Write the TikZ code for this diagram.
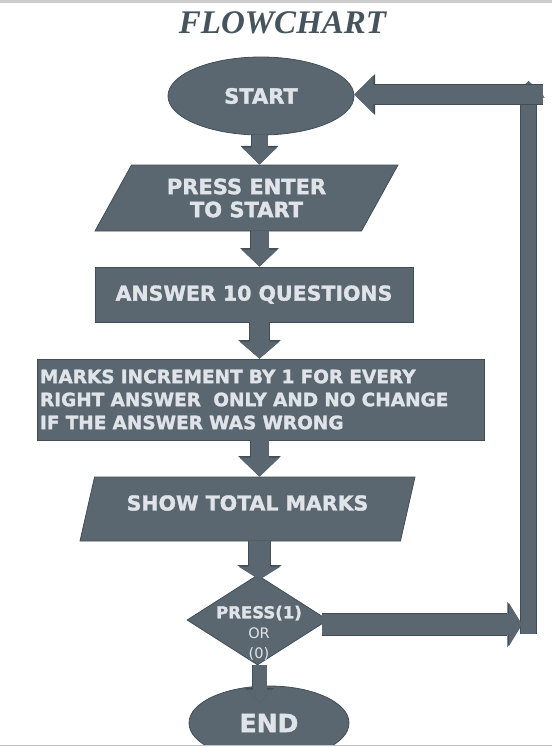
\documentclass[tikz,border=0pt]{standalone}
\usepackage{fontspec}
\setmainfont{DejaVu Sans}[BoldFeatures={FakeBold=1.6}]
\newfontfamily\titlefont{Liberation Serif}
\usetikzlibrary{arrows.meta,positioning,calc,shapes.geometric}
\definecolor{boxc}{RGB}{90,103,112}
\definecolor{edgec}{RGB}{66,78,86}
\definecolor{txtc}{RGB}{224,228,232}
\definecolor{titc}{RGB}{70,84,94}
\newcommand{\fsz}[1]{\fontsize{#1}{1.12\dimexpr#1pt\relax}\selectfont}
\tikzset{
  flow/.style n args={3}{draw=boxc, line width=#1, -{Triangle[width=#2, length=#3, line width=0pt]},
    preaction={draw=edgec, line width=#1+1.6pt, -{Triangle[width=#2+2.6pt, length=#3+1.6pt, line width=0pt]}}}
}
\begin{document}
\begin{tikzpicture}[x=1pt, y=-1pt, every node/.style={text=txtc}]
\tikzstyle{shp}=[draw=edgec, fill=boxc, line width=0.8pt, inner sep=0pt, font=\bfseries]
\tikzstyle{oval}=[shp, ellipse]
\tikzstyle{io}=[shp, trapezium, trapezium left angle=46.8, trapezium right angle=133.2, trapezium stretches body, align=center]
\tikzstyle{proc}=[shp, rectangle]
\tikzstyle{decision}=[shp, diamond]
\useasboundingbox (0,0) rectangle (552,747);
\fill[white] (0,0) rectangle (552,747);
% title
\node[font=\titlefont\bfseries\itshape\fontsize{33}{36}\selectfont, text=titc] (title) at (282.5,22.5) {FLOWCHART};
% flow boxes
\node[oval, minimum width=186pt, minimum height=78pt, font=\bfseries\fsz{21}] (start) at (261,96) {START};
\node[io, minimum width=303pt, minimum height=66pt, font=\bfseries\fontsize{21}{23}\selectfont] (enter) at (246.5,198) {PRESS ENTER\\TO START};
\node[proc, minimum width=318pt, minimum height=55pt, font=\bfseries\fsz{20.5}] (answer) at (254,294.5) {ANSWER 10 QUESTIONS};
\node[proc, minimum width=447pt, minimum height=81pt, text width=441pt, align=left, font=\bfseries\fontsize{18.5}{23}\selectfont] (marks) at (260.5,399.5) {MARKS INCREMENT BY 1 FOR EVERY\\RIGHT ANSWER\ \ ONLY AND NO CHANGE\\IF THE ANSWER WAS WRONG};
\node[io, minimum width=335pt, minimum height=64pt, font=\bfseries\fsz{20.5}] (show) at (247.5,509) {\raisebox{6pt}[\height][\depth]{SHOW TOTAL MARKS}};
\node[decision, minimum width=141pt, minimum height=90pt,
  label={[xshift=1.5pt, yshift=-13pt, align=center, font=\fontsize{16.5}{20}\selectfont]center:{\bfseries PRESS(1)}\\{\fsz{14.5}OR}\\{\fsz{14.5}(0)}}] (dec) at (257.5,620) {};
\node[oval, minimum width=160pt, minimum height=74pt, font=\bfseries\fsz{25}] (finish) at (269,723) {END};
% connectors
\coordinate (col) at (259.5,0);
\draw[flow={16pt}{35pt}{17pt}] (col |- start.south) -- (col |- enter.north);
\draw[flow={18pt}{36pt}{17pt}] (col |- enter.south) -- (col |- answer.north);
\draw[flow={19pt}{40pt}{17pt}] (col |- answer.south) -- (col |- marks.north);
\draw[flow={18pt}{40pt}{19pt}] (col |- marks.south) -- (col |- show.north);
\draw[flow={21pt}{42pt}{13pt}] (col |- show.south) -- ($(col |- dec.north)+(0,5)$);
\draw[flow={14pt}{26pt}{13pt}] (col |- dec.south) -- ($(col |- finish.north)+(0,17)$);
% loop back
\coordinate (loopin) at (522,624.5);
\coordinate (barbot) at (528.5,634);
\coordinate (bartop) at (528.5,81);
\coordinate (backin) at (543,94.5);
\draw[flow={15pt}{30pt}{15pt}] (barbot) -- (bartop);
\draw[flow={21pt}{43pt}{13pt}] ($(dec.east |- loopin)+(-6,0)$) -- (loopin);
\draw[flow={19pt}{38pt}{19pt}] (backin) -- (start.east |- backin);
% page edges
\fill[white] (0,745) rectangle (552,747);
\draw[black!20, line width=3pt] (0,1.5) -- (552,1.5);
\draw[black!25, line width=1pt] (0,745.5) -- (552,745.5);
\end{tikzpicture}
\end{document}
